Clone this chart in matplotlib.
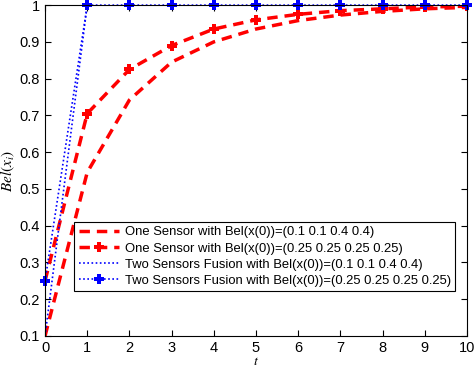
import matplotlib
matplotlib.use("Agg")
import matplotlib.pyplot as plt

t = list(range(11))
one_a = [0.1, 0.545, 0.742, 0.845, 0.90, 0.935, 0.958, 0.973, 0.983, 0.99, 0.994]
one_b = [0.25, 0.705, 0.825, 0.89, 0.935, 0.96, 0.975, 0.985, 0.99, 0.995, 0.997]
two_a = [0.1, 1, 1, 1, 1, 1, 1, 1, 1, 1, 1]
two_b = [0.25, 1, 1, 1, 1, 1, 1, 1, 1, 1, 1]
labels = ["One Sensor with Bel(x(0))=(0.1 0.1 0.4 0.4)",
          "One Sensor with Bel(x(0))=(0.25 0.25 0.25 0.25)",
          "Two Sensors Fusion with Bel(x(0))=(0.1 0.1 0.4 0.4)",
          "Two Sensors Fusion with Bel(x(0))=(0.25 0.25 0.25 0.25)"]

plt.rcParams['font.family'] = ['Liberation Sans']
plt.rcParams['mathtext.fontset'] = 'stix'

fig = plt.figure(figsize=(4.74, 3.67), dpi=100)
ax = fig.add_axes([0.095, 0.0845, 0.89, 0.9015])

ax.plot(t, one_a, color='red', linestyle=(0, (3, 2)), lw=2.5, label=labels[0])
ax.plot(t, one_b, color='red', linestyle=(0, (3, 2)), lw=2.5, marker='P',
        markersize=7, markeredgewidth=0, label=labels[1])
ax.plot(t, two_a, color='blue', linestyle=(0, (1, 1.5)), lw=1.2, label=labels[2])
ax.plot(t, two_b, color='blue', linestyle=(0, (1, 1.5)), lw=1.2, marker='P',
        markersize=7, markeredgewidth=0, label=labels[3], clip_on=False)

ax.set_xlim(0, 10)
ax.set_ylim(0.1, 1)
ax.set_xticks(range(11))
ax.set_yticks([0.1, 0.2, 0.3, 0.4, 0.5, 0.6, 0.7, 0.8, 0.9, 1])
ax.set_yticklabels(['0.1', '0.2', '0.3', '0.4', '0.5', '0.6', '0.7', '0.8', '0.9', '1'])
ax.tick_params(direction='in', top=True, right=True, labelsize=10.5, length=4, width=0.8)
ax.set_xlabel('$t$', fontsize=10, labelpad=-0.5)
ax.set_ylabel('$Bel(x_i)$', fontsize=11, labelpad=2)
for s in ax.spines.values():
    s.set_linewidth(0.8)

leg = ax.legend(loc='upper right', bbox_to_anchor=(0.988, 0.365), fontsize=9.4,
                frameon=True, fancybox=False, edgecolor='black', framealpha=1,
                handlelength=3.1, borderpad=0.35, labelspacing=0.3, handletextpad=0.4)
leg.get_frame().set_linewidth(0.8)

fig.savefig('out.png', dpi=100)
